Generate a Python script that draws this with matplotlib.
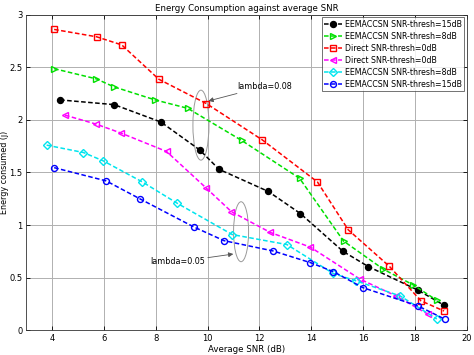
import matplotlib
matplotlib.use("Agg")
import matplotlib.pyplot as plt
from matplotlib.patches import Ellipse

black_x = [4.30, 6.39, 8.19, 9.69, 10.44, 12.34, 13.58, 15.23, 16.21, 18.11, 19.14]
black_y = [2.19, 2.145, 1.98, 1.715, 1.53, 1.32, 1.11, 0.75, 0.605, 0.383, 0.237]
green_x = [4.07, 5.70, 6.37, 7.97, 9.23, 11.31, 13.55, 15.25, 16.79, 17.95, 18.84]
green_y = [2.487, 2.39, 2.315, 2.19, 2.11, 1.805, 1.445, 0.848, 0.58, 0.43, 0.287]
red_x = [4.07, 5.71, 6.68, 8.11, 9.95, 12.11, 14.24, 15.43, 17.01, 18.24, 19.13]
red_y = [2.86, 2.79, 2.713, 2.387, 2.155, 1.81, 1.41, 0.955, 0.61, 0.28, 0.183]
magenta_x = [4.49, 5.69, 6.65, 8.41, 9.94, 10.92, 12.42, 13.97, 15.88, 17.28, 18.52]
magenta_y = [2.045, 1.96, 1.875, 1.70, 1.353, 1.127, 0.93, 0.79, 0.487, 0.326, 0.152]
cyan_x = [3.78, 5.20, 5.97, 7.48, 8.82, 10.95, 13.06, 14.85, 15.73, 17.44, 18.85]
cyan_y = [1.76, 1.69, 1.61, 1.41, 1.208, 0.91, 0.815, 0.54, 0.47, 0.326, 0.107]
blue_x = [4.07, 6.08, 7.38, 9.46, 10.63, 12.53, 13.97, 14.86, 16.0, 18.13, 19.15]
blue_y = [1.546, 1.42, 1.25, 0.983, 0.852, 0.754, 0.643, 0.557, 0.405, 0.231, 0.107]

labels = ["EEMACCSN SNR-thresh=15dB", "EEMACCSN SNR-thresh=8dB",
          "Direct SNR-thresh=0dB", "Direct SNR-thresh=0dB",
          "EEMACCSN SNR-thresh=8dB", "EEMACCSN SNR-thresh=15dB"]
x_ticks = [4, 6, 8, 10, 12, 14, 16, 18, 20]
y_ticks = [0, 0.5, 1, 1.5, 2, 2.5, 3]

plt.rcParams['font.family'] = ['DejaVu Sans']
fig = plt.figure(figsize=(4.74, 3.55), dpi=100)
ax = fig.add_axes([0.0558, 0.0696, 0.9285, 0.889])

series = [
    (black_x, black_y, 'black', 'o', 'black'),
    (green_x, green_y, '#00e000', '>', 'none'),
    (red_x, red_y, '#ff0000', 's', 'none'),
    (magenta_x, magenta_y, '#ff00ff', '<', 'none'),
    (cyan_x, cyan_y, '#00e5ee', 'D', 'none'),
    (blue_x, blue_y, '#0000ff', 'o', 'none'),
]
for (xs, ys, c, m, fc), lab in zip(series, labels):
    ms = 3.6 if m == 'D' else 4.3
    ax.plot(xs, ys, linestyle=(0, (3, 1.6)), color=c, lw=1.1, marker=m,
            markersize=ms, markerfacecolor=fc, markeredgecolor=c,
            markeredgewidth=1.0, label=lab)

ax.set_xlim(3, 20)
ax.set_ylim(0, 3)
ax.set_xticks(x_ticks)
ax.set_yticks(y_ticks)
ax.set_yticklabels(['0', '0.5', '1', '1.5', '2', '2.5', '3'])
ax.grid(True, color='#b0b0b0', lw=0.7)
ax.set_axisbelow(True)
ax.tick_params(direction='in', labelsize=6, length=3, top=True, right=True,
               pad=3, width=0.6)
for s in ax.spines.values():
    s.set_linewidth(0.6)
    s.set_color('#333333')

ax.set_title("Energy Consumption against average SNR", fontsize=6.2, pad=3)
ax.set_xlabel("Average SNR (dB)", fontsize=6.2, labelpad=1)
ax.set_ylabel("Energy consumed (j)", fontsize=5.8)
ax.yaxis.set_label_coords(-0.039, 0.5)

ax.add_patch(Ellipse((9.74, 1.95), 0.62, 0.665, fill=False, ec='#999999', lw=0.7))
ax.add_patch(Ellipse((11.29, 0.937), 0.58, 0.57, fill=False, ec='#999999', lw=0.7))
ax.annotate("lambda=0.08", xy=(10.03, 2.18), xytext=(11.15, 2.32),
            fontsize=5.8, va='center', ha='left',
            arrowprops=dict(arrowstyle='-|>', color='#555555', lw=0.6,
                            mutation_scale=7, shrinkA=0, shrinkB=0))
ax.annotate("lambda=0.05", xy=(10.99, 0.725), xytext=(9.9, 0.65),
            fontsize=5.8, va='center', ha='right',
            arrowprops=dict(arrowstyle='-|>', color='#555555', lw=0.6,
                            mutation_scale=7, shrinkA=0, shrinkB=0))

leg = ax.legend(loc='upper right', fontsize=5.7, frameon=True, fancybox=False,
                edgecolor='#333333', borderpad=0.3, labelspacing=0.38,
                handlelength=2.3, handletextpad=0.3, borderaxespad=0.35)
leg.get_frame().set_linewidth(0.6)

fig.savefig("out.png", dpi=100)
